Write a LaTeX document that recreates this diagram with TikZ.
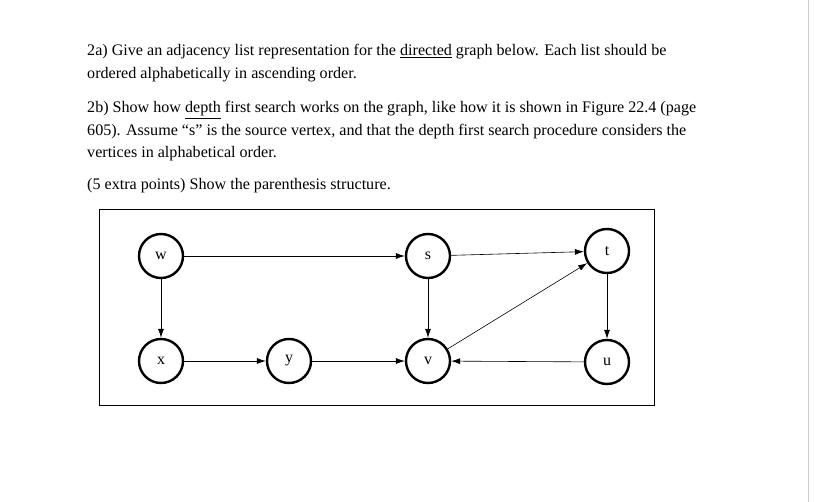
\documentclass[tikz,border=0pt]{standalone}
\usepackage{fontspec}
\setmainfont{Liberation Serif}
\usetikzlibrary{arrows.meta}
\begin{document}
\begin{tikzpicture}[x=1pt,y=-1pt,
  v/.style={circle,draw,line width=2.4pt,minimum size=44pt,inner sep=0pt,font=\fontsize{16}{16}\selectfont},
  e/.style={-{Latex[length=9pt,width=6pt]},line width=0.6pt},
  t/.style={anchor=base west,inner sep=0pt,font=\fontsize{16.1}{17}\selectfont}]
\useasboundingbox (0,0) rectangle (826,502);
\fill[white] (0,0) rectangle (826,502);
\draw[gray!40,line width=1pt] (808,0) -- (808,502);
\node[t] (l1) at (87,56) {2a) Give an adjacency list representation for the \underline{directed} graph below. Each list should be};
\node[t] (l2) at (87,79) {ordered alphabetically in ascending order.};
\node[t] (l3) at (87,113) {2b) Show how \underline{depth} first search works on the graph, like how it is shown in Figure 22.4 (page};
\node[t] (l4) at (87,136) {605). Assume “s” is the source vertex, and that the depth first search procedure considers the};
\node[t] (l5) at (87,158) {vertices in alphabetical order.};
\node[t] (l6) at (87,190) {(5 extra points) Show the parenthesis structure.};
\draw[line width=0.8pt] (99,209) rectangle (654,405);
\node[v] (w) at (161,256) {w};
\node[v] (s) at (428,256) {s};
\node[v] (tt) at (607,251) {t};
\node[v] (x) at (161,361) {x};
\node[v] (y) at (289,361) {y};
\node[v] (vv) at (428,361) {v};
\node[v] (u) at (607,362) {u};
\draw[e] (w) -- (s);
\draw[e] (s) -- (tt);
\draw[e] (w) -- (x);
\draw[e] (x) -- (y);
\draw[e] (y) -- (vv);
\draw[e] (s) -- (vv);
\draw[e] (vv) -- (tt);
\draw[e] (tt) -- (u);
\draw[e] (u) -- (vv);
\end{tikzpicture}
\end{document}
